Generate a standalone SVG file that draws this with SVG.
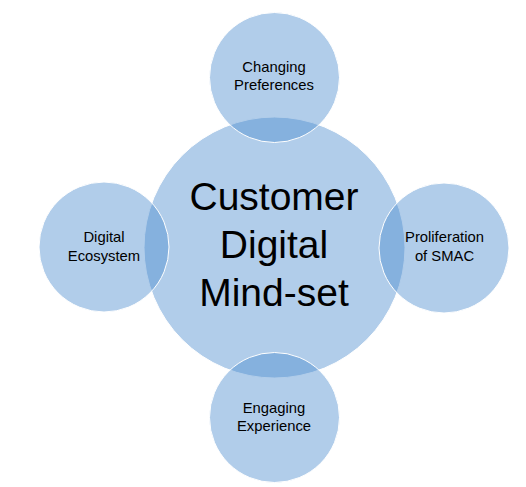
<svg xmlns="http://www.w3.org/2000/svg" width="526" height="487" viewBox="0 0 526 487">
<style>
.c{fill:rgb(77,142,207);fill-opacity:0.44;stroke:#fff;stroke-width:1}
.t{font-family:"Liberation Sans",Arial,sans-serif;font-size:14.8px;fill:#000;text-anchor:middle}
.b{font-family:"Liberation Sans",Arial,sans-serif;font-size:39px;fill:#000;text-anchor:middle}
</style>
<rect width="526" height="487" fill="#fff"/>
<g id="center">
<circle class="c" cx="274.5" cy="247.5" r="130.5"/>
<text class="b" x="274" y="210">Customer</text>
<text class="b" x="274" y="258">Digital</text>
<text class="b" x="274" y="306">Mind-set</text>
</g>
<g id="top">
<circle class="c" cx="274.5" cy="77.5" r="65"/>
<text class="t" x="274" y="71.5">Changing</text>
<text class="t" x="274" y="89.5">Preferences</text>
</g>
<g id="left">
<circle class="c" cx="104" cy="247" r="65"/>
<text class="t" x="104" y="242">Digital</text>
<text class="t" x="104" y="260.5">Ecosystem</text>
</g>
<g id="right">
<circle class="c" cx="444" cy="248" r="65"/>
<text class="t" x="444.5" y="242">Proliferation</text>
<text class="t" x="444.5" y="260.5">of SMAC</text>
</g>
<g id="bottom">
<circle class="c" cx="274.5" cy="417.5" r="65"/>
<text class="t" x="274" y="412.5">Engaging</text>
<text class="t" x="274" y="431">Experience</text>
</g>
<g id="connectors"></g>
</svg>
